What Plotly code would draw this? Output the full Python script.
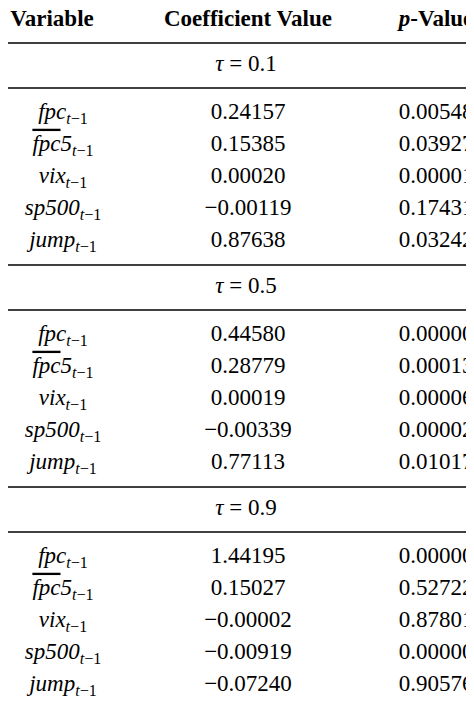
import plotly.graph_objects as go

taus = ["0.1", "0.5", "0.9"]
variables = ["fpc", "fpc5", "vix", "sp500", "jump"]
coef = [
    ["0.24157", "0.15385", "0.00020", "\u22120.00119", "0.87638"],
    ["0.44580", "0.28779", "0.00019", "\u22120.00339", "0.77113"],
    ["1.44195", "0.15027", "\u22120.00002", "\u22120.00919", "\u22120.07240"],
]
pvals = [
    ["0.00548", "0.03927", "0.00001", "0.17431", "0.03242"],
    ["0.00000", "0.00013", "0.00006", "0.00002", "0.01017"],
    ["0.00000", "0.52722", "0.87801", "0.00000", "0.90576"],
]

FONT = "Liberation Serif"
SIZE = 23
W, H = 474, 710

def var_label(v):
    if v == "fpc5":
        return '<span style="text-decoration:overline"><i>fpc</i></span><i>5</i><sub><i>t</i>\u22121</sub>'
    return "<i>%s</i><sub><i>t</i>\u22121</sub>" % v

fig = go.Figure()
lines = [35]
tau_y = []
row_y = []
block_top = 35
for b in range(3):
    tau_y.append(block_top + 22)
    lines.append(block_top + 45)
    ys = [block_top + 70 + i * 32 for i in range(5)]
    row_y.append(ys)
    block_top = ys[-1] + 24
    if b < 2:
        lines.append(block_top)

ys_all, tv, tc, tp = [], [], [], []
for b in range(3):
    for i, v in enumerate(variables):
        ys_all.append(row_y[b][i])
        tv.append(var_label(v))
        tc.append(coef[b][i])
        tp.append(pvals[b][i])

n = len(ys_all)
for x, txt in [(55, tv), (240, tc), (428, tp)]:
    fig.add_trace(go.Scatter(x=[x] * n, y=ys_all, mode="text", text=txt, cliponaxis=False,
                             textfont=dict(family=FONT, size=SIZE, color="black"),
                             hoverinfo="skip"))

fig.add_trace(go.Scatter(x=[238] * 3, y=tau_y, mode="text", cliponaxis=False,
                         text=["<i>\u03c4</i> = %s" % t for t in taus],
                         textfont=dict(family=FONT, size=SIZE, color="black"),
                         hoverinfo="skip"))

fig.add_trace(go.Scatter(x=[44, 240, 428], y=[12] * 3, mode="text", cliponaxis=False,
                         text=["<b>Variable</b>", "<b>Coefficient Value</b>", "<b><i>p</i>-Value</b>"],
                         textfont=dict(family=FONT, size=SIZE, color="black"),
                         hoverinfo="skip"))

for y in lines:
    fig.add_shape(type="line", x0=0, x1=W, y0=y, y1=y, line=dict(color="black", width=1.5))

fig.update_layout(width=W, height=H, margin=dict(l=0, r=0, t=0, b=0),
                  plot_bgcolor="white", paper_bgcolor="white", showlegend=False)
fig.update_xaxes(range=[0, W], visible=False)
fig.update_yaxes(range=[H, 0], visible=False)
fig.write_html("out.html")
